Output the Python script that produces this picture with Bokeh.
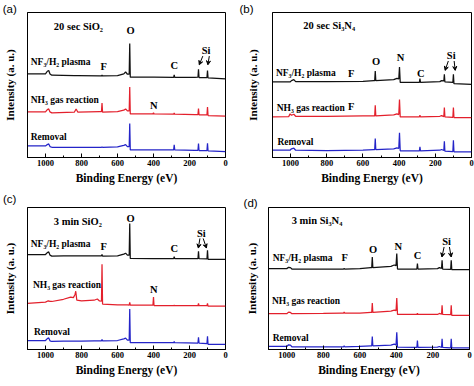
from bokeh.plotting import figure
from bokeh.layouts import row, column
from bokeh.models import Range1d, Label, Arrow, VeeHead, FixedTicker, ColumnDataSource
from bokeh.core.properties import value
from bokeh.embed import file_html
from bokeh.resources import INLINE

# ---------------- data (binding energy in eV, intensity in arbitrary units) ----------------
SERIES = ["NF₃/H₂ plasma", "NH₃ gas reaction", "Removal"]
COLORS = ["#111111", "#e3202c", "#2424c8"]
X_TICKS = [0, 200, 400, 600, 800, 1000]
X_MINOR = [100, 300, 500, 700, 900, 1100]

# panel (a) 20 sec SiO2
E_A = [1100, 1000, 990, 982, 975, 965, 840, 830, 820, 700, 689, 686, 683, 600, 565, 555, 545, 535,
       532, 529, 403, 400, 397, 288, 285, 282, 170, 153, 150, 147, 103, 100, 97, 0]
A_PLASMA = [84.3, 84.3, 87.0, 87.7, 84.3, 83.0, 82.5, 82.5, 82.5, 82.3, 82.3, 83.3, 82.3, 82.7, 84.3, 86.3, 84.0, 84.0,
            115.0, 81.0, 81.0, 81.0, 81.0, 80.8, 83.3, 80.8, 80.8, 81.0, 89.0, 80.7, 80.7, 87.7, 80.3, 79.3]
A_NH3 = [46.0, 46.0, 48.3, 49.0, 46.0, 45.0, 45.7, 49.0, 45.7, 46.3, 46.3, 55.0, 45.7, 46.3, 47.7, 49.0, 47.0, 47.0,
         71.0, 44.0, 44.0, 45.0, 44.0, 43.7, 45.0, 43.7, 43.3, 43.3, 49.3, 43.0, 43.0, 51.0, 42.3, 41.7]
A_REMOVAL = [11.7, 11.7, 13.0, 13.7, 11.0, 10.3, 10.3, 10.3, 10.3, 10.3, 10.3, 10.7, 10.3, 10.7, 12.3, 13.0, 11.0, 11.0,
             34.3, 7.7, 7.7, 7.7, 7.7, 7.7, 12.7, 7.7, 7.3, 7.3, 14.0, 7.0, 7.0, 14.3, 6.7, 6.0]

# panel (b) 20 sec Si3N4
E_B = [1100, 1010, 1003, 995, 982, 972, 800, 600, 540, 535, 532, 529, 430, 412, 402, 398, 394, 288, 285, 282,
       175, 165, 153, 150, 147, 103, 100, 97, 0]
B_PLASMA = [75.7, 75.7, 75.7, 77.0, 78.0, 76.0, 76.0, 76.3, 77.0, 77.0, 86.7, 77.0, 78.0, 79.3, 78.7, 90.7, 75.3, 75.3, 79.0, 75.3,
            76.0, 77.0, 76.7, 83.3, 75.7, 75.3, 83.3, 74.0, 73.3]
B_NH3 = [40.7, 41.0, 43.7, 42.3, 43.3, 41.3, 41.3, 41.7, 41.7, 41.7, 52.3, 41.7, 42.7, 43.7, 43.0, 58.0, 40.7, 40.7, 42.3, 40.7,
         41.3, 42.0, 41.0, 50.0, 40.7, 40.3, 50.0, 40.0, 40.0]
B_REMOVAL = [7.3, 7.3, 7.3, 8.7, 9.3, 7.3, 7.0, 7.3, 8.0, 8.0, 19.0, 8.0, 8.7, 9.7, 9.0, 24.7, 6.7, 6.7, 10.7, 6.7,
             7.3, 8.0, 7.0, 16.3, 6.3, 6.0, 17.3, 5.7, 5.7]

# panel (c) 3 min SiO2
E_C = [1100, 1000, 990, 982, 975, 965, 900, 860, 845, 836, 832, 826, 800, 730, 712, 700, 689, 686, 683, 600,
       565, 555, 545, 535, 532, 529, 403, 400, 397, 288, 285, 282, 153, 150, 147, 103, 100, 97, 0]
C_PLASMA = [98.3, 98.3, 100.3, 101.0, 97.7, 96.7, 97.0, 97.0, 97.0, 97.0, 97.0, 97.0, 97.0, 97.0, 97.0, 97.0, 97.0, 98.3, 96.7, 97.0,
            98.7, 99.7, 97.7, 97.7, 130.3, 94.3, 94.0, 94.0, 94.0, 94.0, 96.0, 94.0, 94.0, 101.7, 94.0, 93.7, 102.7, 93.3, 93.3]
C_NH3 = [47.7, 49.0, 50.0, 50.3, 49.7, 49.7, 52.0, 54.3, 53.7, 57.0, 60.3, 51.0, 50.3, 51.0, 52.3, 50.3, 50.0, 88.3, 47.0, 46.3,
         46.3, 46.3, 46.3, 46.0, 48.7, 46.0, 46.0, 54.3, 45.3, 45.3, 45.7, 45.3, 45.3, 47.7, 45.3, 45.3, 47.7, 45.0, 45.0]
C_REMOVAL = [9.3, 9.3, 11.3, 12.0, 9.0, 8.3, 8.7, 8.7, 8.7, 8.7, 8.7, 8.7, 8.7, 9.0, 9.0, 9.0, 9.0, 10.3, 9.0, 9.3,
             11.0, 11.7, 9.7, 9.7, 42.0, 7.0, 7.0, 7.0, 7.0, 7.0, 8.3, 7.0, 6.7, 12.7, 6.7, 6.0, 13.7, 5.3, 5.3]

# panel (d) 3 min Si3N4
E_D = [1100, 1000, 990, 980, 972, 800, 700, 689, 686, 683, 600, 540, 535, 532, 529, 430, 412, 402, 398, 394,
       288, 285, 282, 175, 165, 153, 150, 147, 103, 100, 97, 0]
D_PLASMA = [80.7, 80.7, 82.0, 81.7, 80.3, 80.3, 80.3, 80.3, 80.7, 80.3, 80.7, 81.7, 81.7, 92.3, 81.7, 83.0, 84.3, 83.7, 95.7, 80.3,
            80.3, 85.7, 80.3, 80.7, 81.7, 81.0, 89.0, 80.3, 80.0, 89.0, 79.7, 79.7]
D_NH3 = [35.7, 35.7, 37.3, 37.0, 35.7, 36.0, 36.3, 36.3, 37.3, 36.3, 36.3, 37.0, 37.0, 46.3, 37.0, 38.3, 39.3, 38.7, 51.3, 35.0,
         35.0, 36.3, 35.0, 35.0, 36.0, 35.3, 44.0, 35.0, 34.7, 44.0, 34.0, 34.0]
D_REMOVAL = [3.0, 3.0, 4.7, 4.3, 2.7, 2.7, 2.7, 2.7, 3.7, 2.7, 3.0, 3.7, 3.7, 13.0, 3.7, 4.3, 5.3, 4.7, 17.3, 2.3,
             2.0, 9.0, 2.0, 2.3, 3.0, 2.0, 10.7, 2.0, 1.7, 10.7, 1.7, 1.7]

# annotation texts (series labels / titles: left aligned; element labels: centred)
A_TITLE = ("20 sec SiO₂", 954, 131.7)
B_TITLE = ("20 sec Si₃N₄", 930, 132.3)
C_TITLE = ("3 min SiO₂", 954, 132.7)
D_TITLE = ("3 min Si₃N₄", 973, 129.0)

A_SERIES_X = [1082, 1082, 1082]; A_SERIES_Y = [96.0, 58.3, 21.0]
B_SERIES_X = [1081, 1077, 1073]; B_SERIES_Y = [84.7, 49.7, 15.7]
C_SERIES_X = [1082, 1070, 1064]; C_SERIES_Y = [109.3, 67.0, 17.7]
D_SERIES_X = [1077, 1081, 1077]; D_SERIES_Y = [91.7, 48.3, 11.7]

A_ELEM = ["O", "F", "C", "Si", "N"]; A_ELEM_X = [527, 676, 284, 108, 399]; A_ELEM_Y = [127.7, 91.7, 92.7, 107.7, 52.7]
B_ELEM = ["F", "O", "N", "C", "Si", "F"]; B_ELEM_X = [665, 527, 392, 280, 112, 665]; B_ELEM_Y = [84.0, 95.7, 100.0, 84.0, 102.3, 50.7]
C_ELEM = ["O", "F", "C", "Si", "N"]; C_ELEM_X = [527, 676, 284, 134, 399]; C_ELEM_Y = [136.0, 106.7, 105.0, 120.3, 61.7]
D_ELEM = ["F", "O", "N", "C", "Si"]; D_ELEM_X = [683, 527, 390, 284, 125]; D_ELEM_Y = [91.7, 100.0, 103.0, 94.0, 108.0]

# Si arrows: start x, start y, end x, end y
A_ARROWS = ([126, 90], [102.3, 102.3], [146, 98], [93.5, 93.5])
B_ARROWS = ([128, 96], [96.7, 96.7], [146, 90], [87.3, 87.3])
C_ARROWS = ([142, 124], [115.0, 115.0], [151, 106], [105.0, 105.0])
D_ARROWS = ([139, 110], [102.3, 102.3], [151, 100], [92.3, 92.3])

SERIF = "Liberation Serif"


def make_panel(tag, tag_x, tag_y, E, ys, ymax, title, sx, sy, el, elx, ely, arrows,
               width, height, bl, br, bt, bb, ylabel_standoff):
    p = figure(width=width, height=height, x_range=Range1d(1100, 0), y_range=Range1d(0, ymax),
               output_backend="svg", toolbar_location=None,
               min_border_left=bl, min_border_right=br, min_border_top=bt, min_border_bottom=bb)
    p.grid.visible = False
    p.outline_line_color = "black"
    p.outline_line_alpha = 1.0
    p.outline_line_width = 1
    p.background_fill_color = "white"
    p.border_fill_color = "white"

    xa = p.xaxis[0]
    xa.ticker = FixedTicker(ticks=X_TICKS, minor_ticks=X_MINOR)
    xa.major_tick_in = 4
    xa.major_tick_out = 0
    xa.minor_tick_in = 2
    xa.minor_tick_out = 0
    xa.axis_line_color = "black"
    xa.major_label_text_font = SERIF
    xa.major_label_text_font_style = "bold"
    xa.major_label_text_font_size = "8.5px"
    xa.major_label_text_color = "black"
    xa.major_label_standoff = 2
    xa.axis_label = "Binding Energy (eV)"
    xa.axis_label_text_font = SERIF
    xa.axis_label_text_font_style = "bold"
    xa.axis_label_text_font_size = "11.5px"
    xa.axis_label_text_color = "black"
    xa.axis_label_standoff = 3

    ya = p.yaxis[0]
    ya.ticker = FixedTicker(ticks=[])
    ya.major_tick_line_color = None
    ya.minor_tick_line_color = None
    ya.axis_line_color = "black"
    ya.axis_label = "Intensity (a. u.)"
    ya.axis_label_text_font = SERIF
    ya.axis_label_text_font_style = "bold"
    ya.axis_label_text_font_size = "11px"
    ya.axis_label_text_color = "black"
    ya.axis_label_standoff = ylabel_standoff

    for yv, c in zip(ys, COLORS):
        p.line(E, yv, line_color=c, line_width=1.25)

    p.text(x=[title[1]], y=[title[2]], text=[title[0]], text_font=value(SERIF), text_font_style="bold",
           text_font_size="10.5px", text_align="left", text_baseline="middle", text_color="black")
    p.text(x=sx, y=sy, text=SERIES, text_font=value(SERIF), text_font_style="bold",
           text_font_size="9.5px", text_align="left", text_baseline="middle", text_color="black")
    p.text(x=elx, y=ely, text=el, text_font=value(SERIF), text_font_style="bold",
           text_font_size="10.5px", text_align="center", text_baseline="middle", text_color="black")

    src = ColumnDataSource(dict(x0=arrows[0], y0=arrows[1], x1=arrows[2], y1=arrows[3]))
    p.add_layout(Arrow(source=src, x_start="x0", y_start="y0", x_end="x1", y_end="y1",
                       line_width=1, line_color="black",
                       end=VeeHead(size=4, line_width=1, line_color="black")))

    p.add_layout(Label(x=tag_x, y=tag_y, text=tag, text_font="Liberation Sans",
                       text_font_size="11.5px", text_align="center", text_baseline="middle",
                       text_color="black"), "above")
    return p


pa = make_panel("(a)", 1199, 150.3, E_A, [A_PLASMA, A_NH3, A_REMOVAL], 146.3, A_TITLE,
                A_SERIES_X, A_SERIES_Y, A_ELEM, A_ELEM_X, A_ELEM_Y, A_ARROWS,
                237, 193, 26, 12, 12, 36, 12)
pb = make_panel("(b)", 1244, 149.3, E_B, [B_PLASMA, B_NH3, B_REMOVAL], 145.3, B_TITLE,
                B_SERIES_X, B_SERIES_Y, B_ELEM, B_ELEM_X, B_ELEM_Y, B_ARROWS,
                237, 193, 35, 3, 12, 36, 14)
pc = make_panel("(c)", 1199, 156.0, E_C, [C_PLASMA, C_NH3, C_REMOVAL], 147.0, C_TITLE,
                C_SERIES_X, C_SERIES_Y, C_ELEM, C_ELEM_X, C_ELEM_Y, C_ARROWS,
                237, 193, 26, 12, 14, 32, 12)
pd = make_panel("(d)", 1198, 145.7, E_D, [D_PLASMA, D_NH3, D_REMOVAL], 141.7, D_TITLE,
                D_SERIES_X, D_SERIES_Y, D_ELEM, D_ELEM_X, D_ELEM_Y, D_ARROWS,
                237, 193, 31, 5, 14, 37, 11)

layout = column(row(pa, pb), row(pc, pd))

open("out.html", "w").write(file_html(layout, INLINE))
